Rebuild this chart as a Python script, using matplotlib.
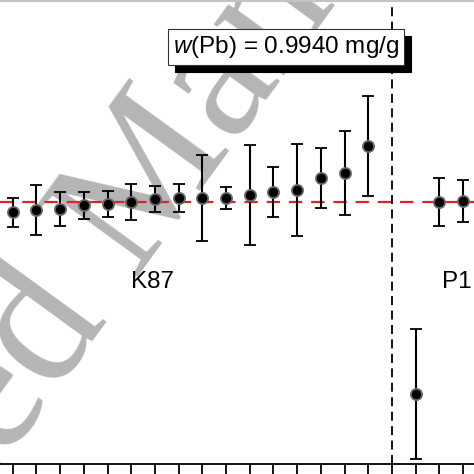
import numpy as np
import matplotlib
matplotlib.use("Agg")
import matplotlib.pyplot as plt
import matplotlib.transforms as mtransforms

plt.rcParams['font.family'] = ['Liberation Sans', 'DejaVu Sans']
plt.rcParams['mathtext.fontset'] = 'custom'
plt.rcParams['mathtext.it'] = 'Liberation Sans:italic'
plt.rcParams['mathtext.rm'] = 'Liberation Sans'

# w(Pb) results, mg/g
ref_value = 0.9940
k87_values = [0.9930, 0.9932, 0.9933, 0.9937, 0.9938, 0.9940, 0.9943, 0.9944,
              0.9944, 0.9944, 0.9947, 0.9950, 0.9952, 0.9964, 0.9969, 0.9996]
k87_err = [0.00145, 0.0025, 0.0017, 0.00135, 0.00126, 0.0018, 0.00132, 0.00137,
           0.0043, 0.00114, 0.0050, 0.0025, 0.0046, 0.0030, 0.0042, 0.0050]
p1_values = [0.9748, 0.9940, 0.9941]
p1_err = [0.0065, 0.0024, 0.0021]
group_labels = ['K87', 'P1']

fig = plt.figure(figsize=(4.74, 4.74), dpi=100)
ax = fig.add_axes([0, 10 / 474, 1, 464 / 474])
ax.patch.set_alpha(0)

x_k87 = np.arange(len(k87_values))
x_div = len(k87_values)
x_p1 = x_div + 1 + np.arange(len(p1_values))

# watermark
wm = dict(fontsize=135, family='Liberation Serif', color='#b5b5b5', rotation=54,
          rotation_mode='anchor', va='baseline', transform=fig.transFigure, zorder=0.5)
ax.text(108 / 474, 1 - 318 / 474, 'Accepted', ha='right', **wm)
ax.text(108 / 474, 1 - 318 / 474, ' Manuscript', ha='left', **wm)

ax.axhline(ref_value, color='#e0202a', lw=1.6, ls=(0, (6, 4)), zorder=1)
ax.axvline(x_div, color='black', lw=1.3, ls=(0, (5, 3)), zorder=1)

style = dict(fmt='o', color='black', ecolor='black', elinewidth=1.5, capsize=4,
             capthick=1.5, ms=8, mfc='black', mec='#666666', mew=1.3, zorder=3)
ax.errorbar(x_k87, k87_values, yerr=k87_err, **style)
ax.errorbar(x_p1, p1_values, yerr=p1_err, **style)

ax.text(5.9, 0.9860, group_labels[0], fontsize=17.5, ha='center', va='center')
ax.text(x_p1[-1] - 0.25, 0.9860, group_labels[1], fontsize=17.5, ha='center', va='center')

# label with shadow
label = r'$\it{w}$(Pb) = 0.9940 mg/g'
lx, ly = 286 / 474, 1 - 47 / 474
shadow_tr = mtransforms.offset_copy(fig.transFigure, fig=fig, x=7, y=-7, units='dots')
ax.text(lx, ly, label, fontsize=17.5, ha='center', va='center', color='black',
        transform=shadow_tr, zorder=5,
        bbox=dict(boxstyle='square,pad=0.2', fc='black', ec='black', lw=0.8))
ax.text(lx, ly, label, fontsize=17.5, ha='center', va='center', color='black',
        transform=fig.transFigure, zorder=6,
        bbox=dict(boxstyle='square,pad=0.2', fc='white', ec='#333333', lw=0.8))

ax.set_xticks(np.arange(-1, 22))
ax.set_xlim(-12.7 / 23.7, (474 - 12.7) / 23.7)
ax.set_ylim(ref_value - 262e-4, ref_value + 202e-4)
ax.tick_params(axis='x', direction='out', length=10, width=1.3, labelbottom=False)
ax.set_yticks([])
ax.spines['left'].set_visible(False)
ax.spines['right'].set_visible(False)
ax.spines['bottom'].set_linewidth(1.3)
ax.spines['top'].set_color('#c4c4c4')
ax.spines['top'].set_linewidth(3)

fig.savefig('out.png', dpi=100)
